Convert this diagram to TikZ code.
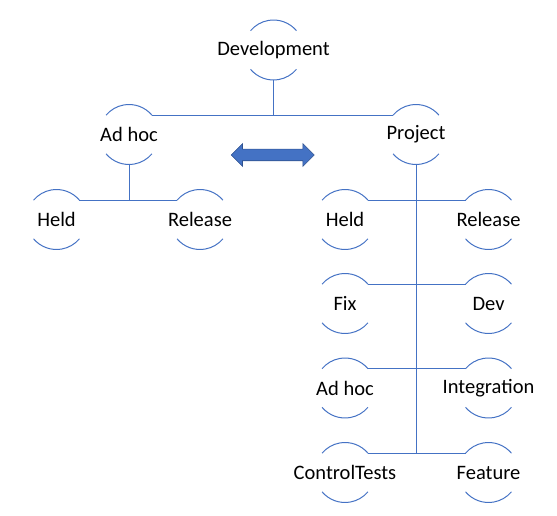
\documentclass[tikz,border=0pt]{standalone}
\usepackage{fontspec}
\setmainfont{Carlito}
\usepackage{tikz}
\usetikzlibrary{shapes.arrows}
\definecolor{linkblue}{HTML}{4472C4}
\definecolor{arrowrim}{HTML}{2F528F}

\tikzset{
	unit/.style={circle,minimum size=60pt,inner sep=0pt,outer sep=0pt},
	every label/.style={font=\fontsize{20.5}{24}\selectfont,inner sep=0pt},
	link/.style={draw=linkblue,line width=1pt},
}

\begin{document}
\begin{tikzpicture}[x=1pt,y=1pt]
	\useasboundingbox (0,0) rectangle (557,515);
	% top and first level
	\node[unit,label=center:Development] (dev) at (273.5,465) {};
	\node[unit,label=center:Ad hoc] (adhoc) at (129,380.5) {};
	\node[unit,label=center:Project] (proj) at (416,380.5) {};
	% children of Ad hoc
	\node[unit,label=center:Held] (aheld) at (56.5,295.5) {};
	\node[unit,label=center:Release] (arel) at (200,295.5) {};
	% children of Project
	\node[unit,label=center:Held] (pheld) at (345,295.5) {};
	\node[unit,label=center:Release] (prel) at (488.5,295.5) {};
	\node[unit,label=center:Fix] (pfix) at (345,211.5) {};
	\node[unit,label=center:Dev] (pdev) at (488.5,211.5) {};
	\node[unit,label=center:Ad hoc] (padhoc) at (345,127) {};
	\node[unit,label=center:Integration] (pint) at (488.5,127) {};
	\node[unit,label=center:ControlTests] (pctl) at (345,42.5) {};
	\node[unit,label=center:Feature] (pfeat) at (488.5,42.5) {};
	% the arcs round every name
	\foreach \n in {dev,adhoc,proj,aheld,arel,pheld,prel,pfix,pdev,padhoc,pint,pctl,pfeat}{
		\draw[link] (\n.40) arc (40:140:30pt);
		\draw[link] (\n.220) arc (220:320:30pt);
	}
	% connectors
	\draw[link] (adhoc.40) -- (proj.140);
	\draw[link] (dev.south) -- (dev.south |- adhoc.40);
	\draw[link] (aheld.40) -- (arel.140);
	\draw[link] (adhoc.south) -- (adhoc.south |- aheld.40);
	\foreach \l/\r in {pheld/prel,pfix/pdev,padhoc/pint,pctl/pfeat}
		\draw[link] (\l.40) -- (\r.140);
	\draw[link] (proj.south) -- (proj.south |- pctl.40);
	% block arrow between the two branches
	\node[double arrow,fill=linkblue,draw=arrowrim,line width=0.6pt,minimum height=83pt,
		double arrow head extend=5.5pt,inner xsep=0pt,inner ysep=5.5pt] (swap) at (272.7,360) {};
\end{tikzpicture}
\end{document}
